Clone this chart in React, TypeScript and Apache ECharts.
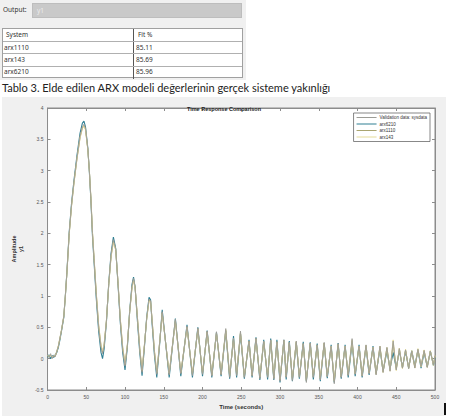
import React, { useEffect, useRef } from "react";
import * as echarts from "echarts";

const T = [
  0, 2, 4, 6, 8, 10, 12, 14, 16, 18,
  21, 23, 25, 28, 31, 34, 38, 42, 45, 47,
  49, 52, 54, 56, 58, 60, 63, 66, 69, 71,
  73, 76, 79, 82, 85, 88, 91, 94, 97, 100,
  103, 106, 109, 111, 113, 116, 119, 122, 125, 128,
  131, 133, 135, 138, 141, 145, 148, 157, 165, 172,
  180, 187, 194, 200, 206, 212, 218, 224, 230, 235,
  240, 244, 249, 254, 260, 264, 269, 274, 279, 284,
  288, 292, 296, 300, 305, 308, 312, 316, 321, 325,
  330, 334, 339, 343, 348, 352, 357, 361, 366, 370,
  375, 379, 384, 388, 393, 397, 402, 406, 411, 415,
  420, 424, 429, 433, 438, 442, 446, 450, 454, 458,
  462, 466, 470, 474, 478, 482, 486, 490, 494, 498,
  500,
];

const validation = [
  0.05, 0.02, 0.08, 0.0, 0.06, 0.03, 0.12, 0.2, 0.33, 0.45,
  0.68, 1.0, 1.37, 2.0, 2.45, 2.8, 3.2, 3.55, 3.7, 3.74,
  3.68, 3.35, 3.0, 2.55, 2.0, 1.6, 1.0, 0.5, 0.18, 0.08,
  0.2, 0.6, 1.2, 1.65, 1.9, 1.75, 1.2, 0.6, 0.15, -0.12,
  0.2, 0.75, 1.15, 1.28, 1.15, 0.65, 0.15, -0.22, 0.2, 0.65,
  0.95, 0.93, 0.6, 0.1, -0.25, 0.3, 0.75, -0.26, 0.63, -0.24,
  0.52, -0.27, 0.49, -0.25, 0.44, -0.28, 0.43, -0.26, 0.48, -0.3,
  0.33, -0.27, 0.44, -0.3, 0.28, -0.28, 0.33, -0.32, 0.28, -0.3,
  0.3, -0.33, 0.27, -0.36, 0.3, -0.3, 0.26, -0.35, 0.28, -0.3,
  0.24, -0.38, 0.25, -0.3, 0.22, -0.34, 0.26, -0.29, 0.2, -0.4,
  0.24, -0.3, 0.2, -0.27, 0.32, -0.25, 0.2, -0.28, 0.22, -0.24,
  0.18, -0.26, 0.2, -0.22, 0.18, -0.2, 0.28, -0.18, 0.16, -0.15,
  0.14, -0.16, 0.12, -0.15, 0.15, -0.12, 0.13, -0.14, 0.12, -0.1,
  0.05,
];

const arx6210 = [
  0.02, 0.06, 0.0, 0.05, 0.02, 0.06, 0.1, 0.18, 0.3, 0.44,
  0.66, 1.0, 1.38, 2.02, 2.48, 2.83, 3.24, 3.6, 3.76, 3.79,
  3.7, 3.36, 2.98, 2.52, 1.96, 1.55, 0.95, 0.44, 0.1, 0.0,
  0.15, 0.58, 1.2, 1.68, 1.94, 1.76, 1.18, 0.56, 0.1, -0.18,
  0.18, 0.76, 1.18, 1.3, 1.14, 0.6, 0.1, -0.27, 0.18, 0.66,
  0.98, 0.94, 0.55, 0.05, -0.3, 0.28, 0.78, -0.3, 0.64, -0.28,
  0.54, -0.3, 0.5, -0.28, 0.45, -0.3, 0.42, -0.28, 0.44, -0.32,
  0.36, -0.3, 0.4, -0.32, 0.3, -0.3, 0.34, -0.34, 0.3, -0.33,
  0.32, -0.34, 0.3, -0.38, 0.3, -0.33, 0.28, -0.36, 0.26, -0.32,
  0.27, -0.36, 0.26, -0.33, 0.24, -0.36, 0.25, -0.31, 0.22, -0.38,
  0.25, -0.32, 0.22, -0.3, 0.26, -0.28, 0.22, -0.3, 0.2, -0.26,
  0.2, -0.24, 0.16, -0.2, 0.12, -0.16, 0.1, -0.15, 0.13, -0.14,
  0.12, -0.15, 0.13, -0.12, 0.14, -0.15, 0.1, -0.13, 0.12, -0.11,
  0.02,
];

const arx1110 = [
  0.04, 0.03, 0.05, 0.02, 0.04, 0.04, 0.11, 0.2, 0.32, 0.45,
  0.67, 0.99, 1.36, 1.99, 2.44, 2.79, 3.19, 3.53, 3.68, 3.72,
  3.66, 3.34, 3.0, 2.56, 2.02, 1.62, 1.03, 0.53, 0.21, 0.1,
  0.22, 0.6, 1.18, 1.63, 1.87, 1.74, 1.21, 0.62, 0.18, -0.1,
  0.21, 0.74, 1.13, 1.26, 1.14, 0.66, 0.17, -0.2, 0.21, 0.64,
  0.93, 0.92, 0.61, 0.12, -0.23, 0.3, 0.73, -0.24, 0.61, -0.23,
  0.5, -0.25, 0.47, -0.24, 0.43, -0.26, 0.41, -0.25, 0.45, -0.28,
  0.32, -0.26, 0.41, -0.29, 0.28, -0.27, 0.32, -0.3, 0.27, -0.29,
  0.29, -0.31, 0.27, -0.34, 0.29, -0.29, 0.26, -0.33, 0.27, -0.29,
  0.24, -0.35, 0.24, -0.29, 0.22, -0.32, 0.25, -0.28, 0.2, -0.36,
  0.23, -0.29, 0.2, -0.26, 0.28, -0.24, 0.2, -0.27, 0.21, -0.23,
  0.18, -0.24, 0.19, -0.21, 0.17, -0.19, 0.24, -0.17, 0.16, -0.15,
  0.14, -0.15, 0.12, -0.14, 0.14, -0.12, 0.13, -0.13, 0.12, -0.1,
  0.04,
];

const arx143 = [
  0.05, 0.04, 0.06, 0.03, 0.05, 0.05, 0.12, 0.21, 0.33, 0.46,
  0.68, 1.0, 1.36, 1.98, 2.43, 2.78, 3.18, 3.52, 3.67, 3.71,
  3.65, 3.33, 3.0, 2.57, 2.03, 1.63, 1.04, 0.54, 0.22, 0.12,
  0.23, 0.61, 1.18, 1.62, 1.86, 1.73, 1.22, 0.63, 0.19, -0.08,
  0.22, 0.74, 1.12, 1.25, 1.13, 0.67, 0.18, -0.18, 0.22, 0.63,
  0.92, 0.91, 0.62, 0.13, -0.22, 0.31, 0.72, -0.23, 0.6, -0.22,
  0.5, -0.24, 0.47, -0.23, 0.42, -0.26, 0.41, -0.24, 0.46, -0.27,
  0.31, -0.25, 0.42, -0.28, 0.27, -0.26, 0.31, -0.29, 0.27, -0.28,
  0.29, -0.3, 0.26, -0.33, 0.29, -0.28, 0.25, -0.32, 0.27, -0.28,
  0.23, -0.34, 0.24, -0.28, 0.21, -0.31, 0.25, -0.27, 0.2, -0.35,
  0.23, -0.28, 0.2, -0.25, 0.3, -0.24, 0.2, -0.27, 0.21, -0.23,
  0.18, -0.25, 0.2, -0.22, 0.18, -0.2, 0.3, -0.19, 0.17, -0.16,
  0.15, -0.16, 0.13, -0.15, 0.16, -0.13, 0.14, -0.14, 0.13, -0.11,
  0.05,
];

const seriesNames = ["Validation data: sysdata", "arx6210", "arx1110", "arx143"];
const tableSystems = ["arx1110", "arx143", "arx6210"];
const tableFits = ["85.11", "85.69", "85.96"];

const COLORS = {
  validation: "#9c9c96",
  arx6210: "#2f7f93",
  arx1110: "#aaa570",
  arx143: "#e4da98",
};

function pts(vals: number[]) {
  return T.map((t, i) => [t, vals[i]]);
}

const uiFont = "'Noto Sans', 'Open Sans', sans-serif";

export default function App() {
  const ref = useRef<HTMLDivElement>(null);

  useEffect(() => {
    document.body.style.margin = "0";
    if (!ref.current) return;
    const chart = echarts.init(ref.current, undefined, { renderer: "svg" });
    const axisColor = "#8c8c8c";
    const baseX = {
      type: "value" as const,
      min: 0,
      max: 500,
      interval: 50,
      axisLine: { show: true, onZero: false, lineStyle: { color: axisColor, width: 1 } },
      axisTick: { show: true, inside: true, length: 3, lineStyle: { color: axisColor } },
      splitLine: { show: false },
    };
    const baseY = {
      type: "value" as const,
      min: -0.5,
      max: 4,
      interval: 0.5,
      axisLine: { show: true, onZero: false, lineStyle: { color: axisColor, width: 1 } },
      axisTick: { show: true, inside: true, length: 3, lineStyle: { color: axisColor } },
      splitLine: { show: false },
    };
    const mk = (name: string, vals: number[], color: string, z: number, width: number) => ({
      name,
      type: "line",
      data: pts(vals),
      showSymbol: false,
      symbol: "none",
      lineStyle: { color, width },
      itemStyle: { color },
      z,
    });
    chart.setOption({
      animation: false,
      backgroundColor: "#f0f0f0",
      textStyle: { fontFamily: "'Liberation Sans', Arial, sans-serif" },
      title: {
        text: "Time Response Comparison",
        left: "center",
        top: 4,
        textStyle: { fontSize: 5.5, fontWeight: "bold", color: "#222" },
      },
      grid: {
        left: 28,
        right: 11,
        top: 11,
        bottom: 26,
        show: true,
        backgroundColor: "#ffffff",
        borderColor: axisColor,
        borderWidth: 1,
      },
      legend: {
        data: seriesNames,
        orient: "vertical",
        right: 16,
        top: 16,
        icon: "rect",
        itemWidth: 20,
        itemHeight: 1,
        itemGap: 1.5,
        padding: [2, 3, 2, 3],
        borderColor: "#555",
        borderWidth: 0.7,
        backgroundColor: "#ffffff",
        textStyle: { fontSize: 4.5, color: "#333", padding: [0, 0, 0, -2] },
      },
      xAxis: [
        {
          ...baseX,
          position: "bottom",
          axisLabel: { fontSize: 5, color: "#555", margin: 4 },
          name: "Time (seconds)",
          nameLocation: "middle",
          nameGap: 12,
          nameTextStyle: { fontSize: 6, fontWeight: "bold", color: "#333" },
        },
        { ...baseX, position: "top", axisLabel: { show: false } },
      ],
      yAxis: [
        {
          ...baseY,
          position: "left",
          axisLabel: { fontSize: 5, color: "#555", margin: 4 },
          name: "Amplitude\ny1",
          nameLocation: "middle",
          nameGap: 13,
          nameRotate: 90,
          nameTextStyle: { fontSize: 5.5, fontWeight: "bold", color: "#333", lineHeight: 7 },
        },
        { ...baseY, position: "right", axisLabel: { show: false } },
      ],
      series: [
        mk(seriesNames[1], arx6210, COLORS.arx6210, 2, 1.1),
        mk(seriesNames[2], arx1110, COLORS.arx1110, 3, 1),
        mk(seriesNames[3], arx143, COLORS.arx143, 4, 1),
        mk(seriesNames[0], validation, COLORS.validation, 5, 0.9),
      ],
    });
    return () => chart.dispose();
  }, []);

  const rowH = 12.3;
  return (
    <div style={{ position: "relative", width: 450, height: 419, background: "#fff", overflow: "hidden", fontFamily: uiFont }}>
      <div style={{ position: "absolute", left: 0, top: 0, width: 246, height: 80, background: "#f0f0f0" }} />
      <div style={{ position: "absolute", left: 3, top: 4, fontSize: 6.5, color: "#333", lineHeight: "12px" }}>Output:</div>
      <div style={{ position: "absolute", left: 32, top: 3, width: 210, height: 15, background: "#c9c9c9", border: "1px solid #bdbdbd", boxSizing: "border-box" }}>
        <span style={{ position: "absolute", left: 4, top: 1, fontSize: 6.5, color: "#ececec", lineHeight: "12px" }}>y1</span>
      </div>
      <div style={{ position: "absolute", left: 2, top: 28, width: 241, height: 50, background: "#fff", border: "1px solid #a0a0a0", boxSizing: "border-box" }}>
        <div style={{ position: "absolute", left: 130, top: 0, width: 1, height: 50, background: "#555" }} />
        <div style={{ position: "absolute", left: 3, top: 0, fontSize: 6.5, color: "#333", lineHeight: "12px" }}>System</div>
        <div style={{ position: "absolute", left: 135, top: 0, fontSize: 6.5, color: "#333", lineHeight: "12px" }}>Fit %</div>
        {tableSystems.map((s, i) => (
          <React.Fragment key={s}>
            <div style={{ position: "absolute", left: 0, top: 12 + i * rowH, width: 239, height: 1, background: "#b0b0b0" }} />
            <div style={{ position: "absolute", left: 1, top: 12.5 + i * rowH, fontSize: 6.5, color: "#333", lineHeight: "12px" }}>{s}</div>
            <div style={{ position: "absolute", left: 133, top: 12.5 + i * rowH, fontSize: 6.5, color: "#333", lineHeight: "12px" }}>{tableFits[i]}</div>
          </React.Fragment>
        ))}
      </div>
      <div style={{ position: "absolute", left: 2, top: 80, fontSize: 11, color: "#222", fontFamily: "Lato, 'Open Sans', sans-serif", whiteSpace: "nowrap", lineHeight: "15px" }}>
        Tablo 3. Elde edilen ARX modeli değerlerinin gerçek sisteme yakınlığı
      </div>
      <div ref={ref} style={{ position: "absolute", left: 2, top: 97, width: 444, height: 319 }} />
      <div style={{ position: "absolute", left: 444, top: 403, width: 1.5, height: 12, background: "#111" }} />
    </div>
  );
}
